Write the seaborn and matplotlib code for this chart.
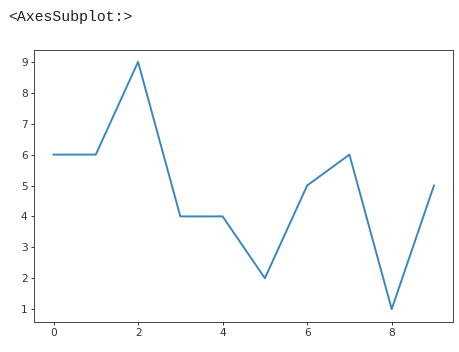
import matplotlib
matplotlib.use("Agg")
import matplotlib.pyplot as plt
import seaborn as sns
import pandas as pd

x_vals = [0, 1, 2, 3, 4, 5, 6, 7, 8, 9]
y_vals = [6, 6, 9, 4, 4, 2, 5, 6, 1, 5]
header_text = "<AxesSubplot:>"

df = pd.DataFrame({"x": x_vals, "y": y_vals})

plt.rcParams["font.family"] = ["DejaVu Sans"]
fig = plt.figure(figsize=(4.6, 3.52), dpi=100)
W, H = 460, 352
left, right, top, bottom = 34.5, 453, 49.5, 321.5
ax = fig.add_axes([left / W, 1 - bottom / H, (right - left) / W, (bottom - top) / H])

sns.lineplot(data=df, x="x", y="y", ax=ax, color="#3a87c0", linewidth=1.4)
ax.set_xlabel("")
ax.set_ylabel("")
ax.set_xticks([0, 2, 4, 6, 8])
ax.set_yticks(range(1, 10))
ax.set_xlim(-0.45, 9.45)
ax.set_ylim(0.6, 9.4)
ax.tick_params(labelsize=7.6, length=2.5, width=0.7, colors="#333333", labelcolor="#333333", pad=2.5)
for s in ax.spines.values():
    s.set_linewidth(0.7)
    s.set_color("#444444")

fig.text(8 / W, 1 - 17 / H, header_text, family=["Liberation Mono", "DejaVu Sans Mono"],
         fontsize=10.7, va="center", ha="left", color="#222222")

fig.savefig("out.png", dpi=100)
